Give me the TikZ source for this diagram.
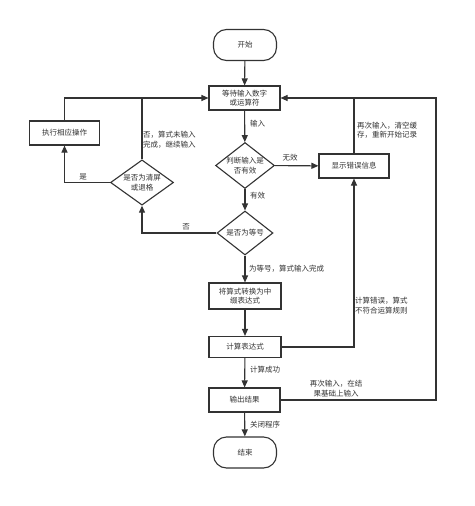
\documentclass[tikz,border=0pt]{standalone}
\usepackage{fontspec}
\setmainfont{Noto Sans CJK SC}
\usetikzlibrary{shapes.geometric,arrows.meta}
\definecolor{ln}{HTML}{333333}
\begin{document}
\begin{tikzpicture}[x=1pt,y=-1pt,
  font=\fontsize{7.5}{9.5}\selectfont, text=ln,
  box/.style={draw=ln, line width=1.1pt, minimum width=71pt, minimum height=24pt, inner sep=1pt, align=center},
  term/.style={draw=ln, line width=1.1pt, rounded corners=13pt, minimum width=63pt, minimum height=31pt, align=center},
  dia/.style={draw=ln, line width=1.1pt, diamond, aspect=1.3, inner sep=0pt, align=center},
  lab/.style={inner sep=0pt, align=left},
  conn/.style={draw=ln, line width=1.1pt},
  arr/.style={conn, -{Triangle[length=7pt,width=6pt]}}]
\useasboundingbox (0,0) rectangle (474,506);
\fill[white] (0,0) rectangle (474,506);

\node[term] (start) at (245,45) {开始};
\node[box] (wait) at (244.5,98) {等待输入数字\\或运算符};
\node[dia, minimum width=58pt, minimum height=46pt] (valid) at (245,165.5) {判断输入是\\否有效};
\node[box, minimum width=70pt] (err) at (354,166) {显示错误信息};
\node[dia, minimum width=56pt, minimum height=44pt] (eq) at (245,233) {是否为等号};
\node[dia, minimum width=63pt, minimum height=43pt] (clr) at (142,182.5) {是否为清屏\\或退格};
\node[box, minimum width=70pt] (exec) at (64.5,133) {执行相应操作};
\node[box, minimum width=72pt, minimum height=26pt] (conv) at (245,296) {将算式转换为中\\缀表达式};
\node[box, minimum width=72pt, minimum height=21pt] (calc) at (245,347) {计算表达式};
\node[box] (out) at (244.5,400) {输出结果};
\node[term] (end) at (245,452.5) {结束};

\coordinate (rr) at (436,400);

\draw[arr] (start) -- (wait);
\draw[arr] (wait) -- (valid);
\draw[arr] (valid) -- (err);
\draw[arr] (valid) -- (eq);
\draw[arr] (eq) -- (conv);
\draw[arr] (conv) -- (calc);
\draw[arr] (calc) -- (out);
\draw[arr] (out) -- (end);
\draw[arr] (eq.west) -| (clr.south);
\draw[arr] (clr.west) -| (exec.south);
\draw[arr] (clr.north) |- (wait.west);
\draw[conn] (exec.north) |- (clr.north |- wait.west);
\draw[arr] (calc.east) -| (err.south);
\draw[arr] (out.east) -- (rr) |- (wait.east);
\draw[conn] (err.north) -- (err.north |- wait.east);

\node[lab, anchor=west] (l1) at (250,124) {输入};
\node[lab] (l2) at (290,158) {无效};
\node[lab, anchor=west] (l3) at (250,196) {有效};
\node[lab] (l4) at (186,227) {否};
\node[lab] (l5) at (83,177) {是};
\node[lab, anchor=west] (l6) at (143,139.5) {否，算式未输入\\完成，继续输入};
\node[lab, anchor=west] (l7) at (357,130) {再次输入，清空缓\\存，重新开始记录};
\node[lab, anchor=west] (l8) at (249,269) {为等号，算式输入完成};
\node[lab, anchor=west] (l9) at (355,305.5) {计算错误，算式\\不符合运算规则};
\node[lab, anchor=west] (l10) at (250,370) {计算成功};
\node[lab, align=center] (l11) at (336,388.5) {再次输入，在结\\果基础上输入};
\node[lab, anchor=west] (l12) at (250,425) {关闭程序};
\end{tikzpicture}
\end{document}
